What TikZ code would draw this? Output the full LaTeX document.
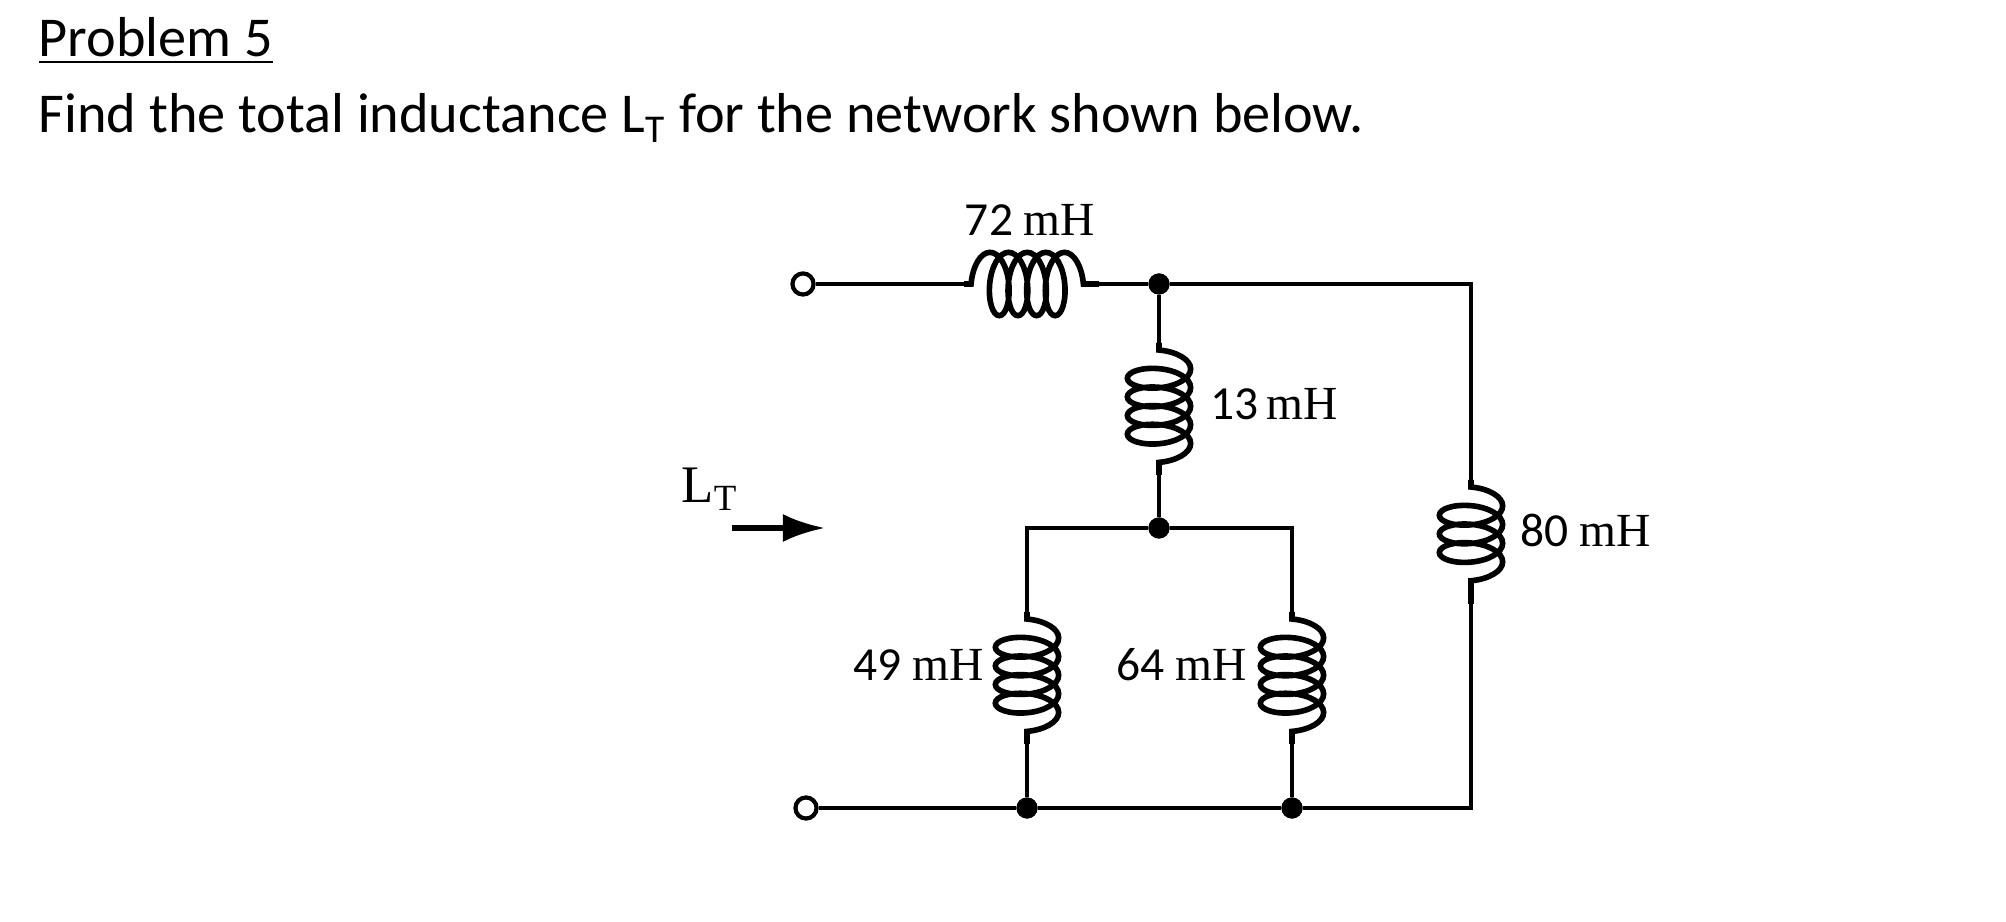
\documentclass[tikz,border=0pt]{standalone}
\usepackage{fontspec}
\setmainfont{Carlito}
\newfontfamily\tms{Liberation Serif}
\usetikzlibrary{decorations.pathmorphing,arrows.meta}
\begin{document}
\begin{tikzpicture}[x=0.01cm,y=-0.01cm,
  wire/.style={line width=1.3pt},
  ind/.style={line width=1.6pt,decorate,decoration={coil,amplitude=9pt,segment length=5.3pt,aspect=0.45,pre length=2pt,post length=2pt}},
  dotn/.style={circle,fill=black,inner sep=0pt,minimum size=6pt},
  term/.style={circle,draw,fill=white,line width=1.2pt,inner sep=0pt,minimum size=6pt},
  lab/.style={font=\fontsize{13.5}{16}\selectfont,inner sep=0pt}]
\useasboundingbox (0,0) rectangle (2006,922);
\node[anchor=west,inner sep=0pt,font=\fontsize{16}{19}\selectfont] (t1) at (38,41) {\underline{Problem 5}};
\node[anchor=west,inner sep=0pt,font=\fontsize{16}{19}\selectfont] (t2) at (38,118) {Find the total inductance L\textsubscript{T} for the network shown below.};
% nodes
\node[term] (a) at (803,284) {};
\node[term] (b) at (806,808) {};
\coordinate (l72a) at (964,284); \coordinate (l72b) at (1099,284);
\node[dotn] (n1) at (1159,284) {};
\coordinate (tr) at (1471,284);
\coordinate (l80a) at (1471,480); \coordinate (l80b) at (1471,604);
\coordinate (br) at (1471,808);
\coordinate (l13a) at (1159,343); \coordinate (l13b) at (1159,475);
\node[dotn] (n2) at (1159,528) {};
\coordinate (ml) at (1027,528); \coordinate (mr) at (1292,528);
\coordinate (l49a) at (1027,612); \coordinate (l49b) at (1027,744);
\coordinate (l64a) at (1292,612); \coordinate (l64b) at (1292,744);
\node[dotn] (n3) at (1027,808) {};
\node[dotn] (n4) at (1292,808) {};
% wires
\draw[wire] (a) -- (l72a); \draw[ind] (l72a) -- (l72b); \draw[wire] (l72b) -- (n1) -- (tr) -- (l80a);
\draw[ind] (l80a) -- (l80b); \draw[wire] (l80b) -- (br) -- (n4) -- (n3) -- (b);
\draw[wire] (n1) -- (l13a); \draw[ind] (l13a) -- (l13b); \draw[wire] (l13b) -- (n2);
\draw[wire] (l49a) -- (ml) -- (n2) -- (mr) -- (l64a);
\draw[ind] (l49a) -- (l49b); \draw[ind] (l64a) -- (l64b);
\draw[wire] (l49b) -- (n3); \draw[wire] (l64b) -- (n4);
\node[dotn] at (n1) {}; \node[dotn] at (n2) {}; \node[dotn] at (n3) {}; \node[dotn] at (n4) {};
% labels
\node[lab] (L72) at (1030,220) {72 {\tms mH}};
\node[lab,anchor=west] (L13) at (1210,404) {13\,{\tms mH}};
\node[lab,anchor=west] (L80) at (1520,530) {80 {\tms mH}};
\node[lab,anchor=east] (L49) at (984,665) {49 {\tms mH}};
\node[lab,anchor=east] (L64) at (1247,665) {64 {\tms mH}};
\node[lab,font=\tms\fontsize{15}{18}\selectfont] (LT) at (710,489) {L\textsubscript{T}};
\coordinate (ar1) at (732,528); \coordinate (ar2) at (825,528);
\draw[line width=1.6pt,-{Latex[length=12pt,width=8pt]}] (ar1) -- (ar2);
\end{tikzpicture}
\end{document}
